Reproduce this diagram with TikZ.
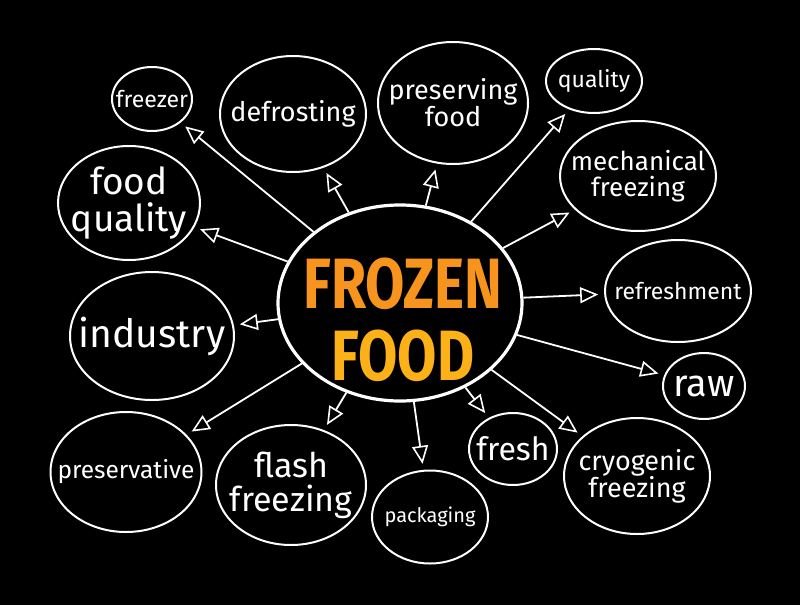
\documentclass[tikz,border=0pt]{standalone}
\usepackage{fontspec}
\setmainfont{Fira Sans}
\usetikzlibrary{arrows.meta,shapes.geometric}
\definecolor{frozenorange}{HTML}{F7941D}
\definecolor{foodorange}{HTML}{FBB117}
\tikzset{
  bubble/.style={draw=white, line width=2pt, ellipse, inner sep=0pt},
  word/.style={text=white, align=center, font=\fontsize{#1}{#1}\selectfont},
  spoke/.style={draw=white, line width=1.8pt, shorten >=6pt,
    -{Triangle[open,length=18pt,width=16pt,line width=1.6pt]}},
}
\begin{document}
\begin{tikzpicture}[x=1pt,y=-1pt]
% Background
\fill[black] (0,0) rectangle (800,605);

% Drawing hub ellipse
\node (hub) [bubble, line width=3.2pt, minimum width=244pt, minimum height=196pt] at (400,303) {};
\node (title) [align=center, font=\fontsize{57}{72}\selectfont\bfseries] at (403,320)
  {\textcolor{frozenorange}{\scalebox{1}[1.25]{FROZEN}}\\\textcolor{foodorange}{\scalebox{1}[1.25]{FOOD}}};

% Drawing bubbles, top row
\node (freezer) [bubble, minimum width=80pt, minimum height=64pt,
  label={[word=23]center:freezer}] at (152,99) {};
\node (defrosting) [bubble, minimum width=146pt, minimum height=116pt,
  label={[word=27]center:defrosting}] at (293,114) {};
\node (preserving) [bubble, minimum width=150pt, minimum height=122pt,
  label={[word=27]center:preserving\\food}] at (453,103) {};
\node (quality) [bubble, minimum width=96pt, minimum height=64pt,
  label={[word=23]center:quality}] at (594,81) {};
\node (mechanical) [bubble, minimum width=156pt, minimum height=110pt,
  label={[word=26]center:mechanical\\freezing}] at (638,176) {};

% Drawing bubbles, sides
\node (foodquality) [bubble, minimum width=142pt, minimum height=114pt,
  label={[word=37]center:food\\quality}] at (129,203) {};
\node (refreshment) [bubble, minimum width=146pt, minimum height=102pt,
  label={[word=23]center:refreshment}] at (678,291) {};
\node (industry) [bubble, minimum width=164pt, minimum height=128pt,
  label={[word=39]center:industry}] at (152,336) {};
\node (raw) [bubble, minimum width=82pt, minimum height=66pt,
  label={[word=38]center:raw}] at (704,386) {};

% Drawing bubbles, bottom row
\node (preservative) [bubble, minimum width=151pt, minimum height=120pt,
  label={[word=24.5]center:preservative}] at (126,472) {};
\node (flash) [bubble, minimum width=150pt, minimum height=120pt,
  label={[word=34]center:flash\\freezing}] at (291,485) {};
\node (packaging) [bubble, minimum width=116pt, minimum height=93pt,
  label={[word=20]center:packaging}] at (430,517) {};
\node (fresh) [bubble, minimum width=88pt, minimum height=72pt,
  label={[word=32]center:fresh}] at (513,449) {};
\node (cryogenic) [bubble, minimum width=146pt, minimum height=116pt,
  label={[word=27]center:cryogenic\\freezing}] at (637,476) {};

% Drawing arrows from hub
\draw [spoke] (hub) -- (freezer);
\draw [spoke] (hub) -- (defrosting);
\draw [spoke] (hub) -- (preserving);
\draw [spoke] (hub) -- (quality);
\draw [spoke] (hub) -- (mechanical);
\draw [spoke] (hub) -- (foodquality);
\draw [spoke] (hub) -- (refreshment);
\draw [spoke] (hub) -- (industry);
\draw [spoke] (hub) -- (raw);
\draw [spoke] (hub) -- (preservative);
\draw [spoke] (hub) -- (flash);
\draw [spoke] (hub) -- (packaging);
\draw [spoke] (hub) -- (fresh);
\draw [spoke] (hub) -- (cryogenic);
\end{tikzpicture}
\end{document}
